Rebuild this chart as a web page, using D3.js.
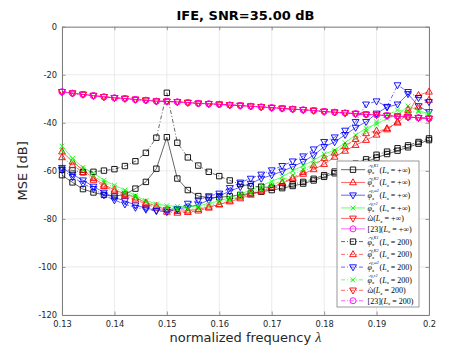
<!DOCTYPE html>
<html><head><meta charset="utf-8">
<script src="https://cdn.jsdelivr.net/npm/d3@7"></script>
<style>body{margin:0;background:#fff}svg{display:block}</style>
</head><body><svg id="c" width="474" height="355"></svg>
<script>
const freq = [0.130,0.132,0.134,0.136,0.138,0.140,0.142,0.144,0.146,0.148,0.150,0.152,0.154,0.156,0.158,0.160,0.162,0.164,0.166,0.168,0.170,0.172,0.174,0.176,0.178,0.180,0.182,0.184,0.186,0.188,0.190,0.192,0.194,0.196,0.198,0.200];
const k1Inf = [-61.8,-64.8,-67.6,-69.0,-70.0,-70.6,-69.8,-67.4,-64.6,-59.1,-46.0,-63.2,-68.0,-70.5,-71.1,-71.0,-70.6,-70.0,-69.4,-68.7,-68.0,-67.2,-66.3,-65.3,-64.0,-62.5,-61.0,-59.5,-58.0,-56.3,-54.5,-53.0,-51.6,-50.2,-48.7,-47.2];
const k2Inf = [-52.0,-56.2,-59.7,-63.0,-65.8,-67.9,-69.6,-71.2,-73.2,-74.7,-76.2,-76.8,-76.6,-76.0,-75.0,-74.0,-72.8,-71.5,-70.0,-68.6,-67.0,-65.2,-63.3,-61.3,-59.4,-57.2,-54.2,-51.7,-49.3,-47.2,-45.0,-42.3,-40.0,-36.1,-28.5,-27.1];
const w2Inf = [-58.7,-61.5,-63.9,-66.5,-69.0,-71.1,-72.5,-74.3,-75.5,-76.4,-76.2,-75.8,-75.2,-74.0,-72.2,-70.4,-68.5,-66.7,-65.3,-63.2,-61.8,-60.2,-58.3,-56.2,-53.5,-50.0,-48.0,-45.0,-42.0,-39.6,-36.1,-33.5,-32.3,-28.0,-33.0,-35.5];
const r2Inf = [-49.7,-54.8,-58.6,-60.9,-63.9,-66.0,-68.0,-70.3,-72.4,-73.8,-74.5,-74.8,-75.0,-74.6,-73.6,-72.5,-71.2,-69.7,-68.0,-66.2,-64.4,-62.5,-60.0,-57.8,-55.6,-53.0,-51.4,-48.3,-45.1,-42.3,-40.5,-38.2,-36.8,-33.0,-35.0,-36.2];
const omegaInf = [-27.1,-27.7,-28.2,-28.7,-29.2,-29.6,-29.9,-30.3,-30.6,-31.0,-31.1,-31.3,-31.6,-31.9,-32.1,-32.3,-32.6,-32.8,-33.1,-33.4,-33.7,-34.0,-34.3,-34.6,-34.9,-35.3,-35.6,-35.9,-36.2,-36.5,-36.7,-37.0,-37.3,-37.6,-37.9,-38.2];
const ref23Inf = [-27.1,-27.7,-28.2,-28.7,-29.2,-29.6,-29.9,-30.3,-30.6,-31.0,-31.1,-31.3,-31.6,-31.9,-32.1,-32.3,-32.6,-32.8,-33.1,-33.4,-33.7,-34.0,-34.3,-34.6,-34.9,-35.3,-35.6,-35.9,-36.2,-36.5,-36.7,-37.0,-37.3,-37.6,-37.9,-38.2];
const k1L200 = [-59.5,-59.8,-60.6,-60.4,-59.9,-59.3,-58.0,-56.0,-52.5,-46.2,-27.5,-48.3,-54.4,-57.8,-60.4,-62.2,-64.0,-65.5,-66.4,-66.6,-67.0,-66.5,-65.6,-64.6,-63.3,-61.8,-60.3,-58.7,-57.0,-55.2,-53.3,-52.0,-50.6,-49.4,-48.0,-46.5];
const k2L200 = [-54.4,-57.6,-60.6,-63.8,-66.4,-68.5,-70.4,-72.0,-73.8,-75.4,-77.1,-77.5,-77.2,-76.6,-75.4,-74.0,-72.4,-70.8,-69.4,-68.2,-66.7,-64.8,-62.9,-60.5,-57.8,-54.8,-52.5,-49.8,-46.8,-44.4,-43.3,-42.8,-39.6,-34.7,-33.3,-30.5];
const w2L200 = [-59.6,-62.5,-65.3,-67.5,-70.1,-72.2,-73.9,-75.3,-76.1,-76.7,-77.1,-76.1,-73.6,-72.2,-70.5,-69.4,-67.1,-64.8,-63.2,-61.5,-59.7,-57.9,-56.0,-53.9,-51.0,-47.9,-46.0,-43.2,-39.6,-32.3,-31.0,-33.3,-24.3,-27.1,-29.6,-31.3];
const r2L200 = [-51.5,-56.0,-59.5,-62.2,-64.8,-67.0,-69.0,-71.0,-73.0,-74.5,-75.5,-76.0,-76.2,-75.6,-74.5,-73.3,-72.0,-70.6,-69.2,-67.7,-66.0,-64.0,-61.8,-59.5,-57.2,-54.6,-52.2,-49.5,-46.5,-43.5,-39.6,-36.8,-34.7,-35.5,-35.4,-36.8];
const omegaL200 = [-27.1,-27.7,-28.2,-28.7,-29.2,-29.6,-29.9,-30.3,-30.6,-31.0,-31.1,-31.3,-31.6,-31.9,-32.1,-32.3,-32.6,-32.8,-33.1,-33.4,-33.7,-34.0,-34.3,-34.6,-34.9,-35.3,-35.6,-35.9,-36.2,-36.5,-36.7,-37.0,-37.3,-37.6,-37.9,-38.2];
const ref23L200 = [-27.1,-27.7,-28.2,-28.7,-29.2,-29.6,-29.9,-30.3,-30.6,-31.0,-31.1,-31.3,-31.6,-31.9,-32.1,-32.3,-32.6,-32.8,-33.1,-33.4,-33.7,-34.0,-34.3,-34.6,-34.9,-35.3,-35.6,-35.9,-36.2,-36.5,-36.7,-37.0,-37.3,-37.6,-37.9,-38.2];

const xTicks = [0.13,0.14,0.15,0.16,0.17,0.18,0.19,0.2];
const xTickLabels = ["0.13","0.14","0.15","0.16","0.17","0.18","0.19","0.2"];
const yTicks = [0,-20,-40,-60,-80,-100,-120];
const yTickLabels = ["0","-20","-40","-60","-80","-100","-120"];
const titleText = "IFE, SNR=35.00 dB";
const xLabelText = "normalized frequency ";
const yLabelText = "MSE [dB]";
const seriesKinds = ["phi","phi","phi","phi","omega","ref","phi","phi","phi","phi","omega","ref"];
const seriesSups = ["γ,K1","γ,K2","γ,ω2","γ,r2","","","γ,K1","γ,K2","γ,ω2","γ,r2","",""];
const seriesLengths = ["+∞","+∞","+∞","+∞","+∞","+∞","200","200","200","200","200","200"];

const series = [
  {data:k1Inf, color:"#000000", marker:"square", dash:null},
  {data:k2Inf, color:"#ff0000", marker:"triUp", dash:null},
  {data:w2Inf, color:"#0000ff", marker:"triDown", dash:null},
  {data:r2Inf, color:"#00ff00", marker:"x", dash:null},
  {data:omegaInf, color:"#ff0000", marker:"triDown", dash:null},
  {data:ref23Inf, color:"#ff00ff", marker:"circle", dash:null},
  {data:k1L200, color:"#000000", marker:"square", dash:"4,2,1,2"},
  {data:k2L200, color:"#ff0000", marker:"triUp", dash:"4,2,1,2"},
  {data:w2L200, color:"#0000ff", marker:"triDown", dash:"4,2,1,2"},
  {data:r2L200, color:"#00ff00", marker:"x", dash:"4,2,1,2"},
  {data:omegaL200, color:"#ff0000", marker:"triDown", dash:"4,2,1,2"},
  {data:ref23L200, color:"#ff00ff", marker:"circle", dash:"4,2,1,2"}
];

const svg = d3.select("#c");
const L = 62, R = 429, T = 26.7, B = 315;
const x = d3.scaleLinear().domain([0.13,0.2]).range([L,R]);
const y = d3.scaleLinear().domain([-120,0]).range([B,T]);
const sans = "'DejaVu Sans', sans-serif";
const serif = "'Liberation Serif', 'DejaVu Serif', serif";

svg.append("rect").attr("x",L).attr("y",T).attr("width",R-L).attr("height",B-T).attr("fill","#fff");

// grid
const grid = svg.append("g").attr("stroke","#e6e6e6").attr("stroke-width",0.8);
xTicks.forEach(t=>grid.append("line").attr("x1",x(t)).attr("x2",x(t)).attr("y1",T).attr("y2",B));
yTicks.forEach(t=>grid.append("line").attr("x1",L).attr("x2",R).attr("y1",y(t)).attr("y2",y(t)));

// axes
const axCol = "#7f7f7f";
const fmtX = d => xTickLabels[xTicks.indexOf(d)];
const fmtY = d => yTickLabels[yTicks.indexOf(d)];
const gxB = svg.append("g").attr("transform",`translate(0,${B})`).call(d3.axisBottom(x).tickValues(xTicks).tickFormat(fmtX).tickSizeInner(-3.5).tickSizeOuter(0).tickPadding(6));
const gxT = svg.append("g").attr("transform",`translate(0,${T})`).call(d3.axisTop(x).tickValues(xTicks).tickFormat("").tickSizeInner(-3.5).tickSizeOuter(0));
const gyL = svg.append("g").attr("transform",`translate(${L},0)`).call(d3.axisLeft(y).tickValues(yTicks).tickFormat(fmtY).tickSizeInner(-3.5).tickSizeOuter(0).tickPadding(5));
const gyR = svg.append("g").attr("transform",`translate(${R},0)`).call(d3.axisRight(y).tickValues(yTicks).tickFormat("").tickSizeInner(-3.5).tickSizeOuter(0));
[gxB,gxT,gyL,gyR].forEach(g=>{
  g.selectAll("path.domain").attr("stroke",axCol).attr("stroke-width",1);
  g.selectAll(".tick line").attr("stroke",axCol).attr("stroke-width",0.8);
  g.selectAll("text").attr("fill","#262626").attr("font-family",sans).attr("font-size","8.3px");
});
gyL.selectAll("text").attr("dy","0.35em");

// marker paths
function markerPath(type){
  switch(type){
    case "square": return "M-2.7,-2.7h5.4v5.4h-5.4Z";
    case "triUp": return "M0,-3.7L3.4,2.3L-3.4,2.3Z";
    case "triDown": return "M0,3.7L3.4,-2.3L-3.4,-2.3Z";
    case "x": return "M-2.4,-2.4L2.4,2.4M-2.4,2.4L2.4,-2.4";
    case "circle": return "M3,0A3,3 0 1,1 -3,0A3,3 0 1,1 3,0Z";
  }
}

const line = d3.line().x((d,i)=>x(freq[i])).y(d=>y(d));
const plot = svg.append("g");
series.forEach(s=>{
  const g = plot.append("g");
  g.append("path").attr("d",line(s.data)).attr("fill","none").attr("stroke",s.color).attr("stroke-width",0.6)
    .attr("stroke-dasharray",s.dash);
  g.selectAll("path.m").data(s.data).enter().append("path").attr("class","m")
    .attr("d",markerPath(s.marker)).attr("transform",(d,i)=>`translate(${x(freq[i])},${y(d)})`)
    .attr("fill","none").attr("stroke",s.color).attr("stroke-width",0.9);
});

// title & labels
svg.append("text").attr("x",(L+R)/2).attr("y",20).attr("text-anchor","middle")
  .attr("font-family",sans).attr("font-weight","bold").attr("font-size","13px").attr("fill","#000").text(titleText);
const xl = svg.append("text").attr("x",(L+R)/2).attr("y",342).attr("text-anchor","middle")
  .attr("font-family",sans).attr("font-size","13px").attr("fill","#262626");
xl.append("tspan").text(xLabelText);
xl.append("tspan").attr("font-family",serif).attr("font-style","italic").attr("font-size","14px").text("λ");
svg.append("text").attr("transform",`translate(27,${(T+B)/2}) rotate(-90)`).attr("text-anchor","middle")
  .attr("font-family",sans).attr("font-size","13px").attr("fill","#262626").text(yLabelText);

// legend
const lg = svg.append("g");
const lx0 = 337, ly0 = 161, lw = 82, lh = 146;
lg.append("rect").attr("x",lx0).attr("y",ly0).attr("width",lw).attr("height",lh).attr("fill","#fff").attr("stroke","#7f7f7f").attr("stroke-width",0.8);
const above = seriesKinds.map(k=>k==="phi"?6.5:4.2);
const below = 5.5;
const gap = 0.75;
let cy = ly0 + 2.2 - gap;
series.forEach((s,i)=>{
  cy += (i===0 ? gap + above[i] : below + gap + above[i]);
  const row = lg.append("g");
  row.append("line").attr("x1",341).attr("x2",365).attr("y1",cy).attr("y2",cy).attr("stroke",s.color).attr("stroke-width",0.6).attr("stroke-dasharray",s.dash);
  row.append("path").attr("d",markerPath(s.marker)).attr("transform",`translate(353,${cy})`).attr("fill","none").attr("stroke",s.color).attr("stroke-width",0.9);
  const tx = 367.5, base = cy + 3;
  const t = row.append("text").attr("font-family",serif).attr("font-size","8px").attr("fill","#000");
  if(seriesKinds[i]==="phi"){
    t.append("tspan").attr("x",tx).attr("y",base).attr("font-style","italic").text("φ");
    row.append("path").attr("d",`M${tx+1.4},${base-6}L${tx+2.7},${base-7.3}L${tx+4},${base-6}`).attr("fill","none").attr("stroke","#000").attr("stroke-width",0.5);
    t.append("tspan").attr("x",tx+3.8).attr("y",base-5.8).attr("font-style","italic").attr("font-size","4px").text(seriesSups[i]);
    t.append("tspan").attr("x",tx+4.6).attr("y",base+1.4).attr("font-style","italic").attr("font-size","5px").text("x");
    t.append("tspan").attr("x",tx+12).attr("y",base).text("(");
  } else if(seriesKinds[i]==="omega"){
    t.append("tspan").attr("x",tx).attr("y",base).attr("font-style","italic").text("ω");
    row.append("path").attr("d",`M${tx+1.5},${base-4.6}L${tx+2.9},${base-6}L${tx+4.3},${base-4.6}`).attr("fill","none").attr("stroke","#000").attr("stroke-width",0.5);
    t.append("tspan").text("(");
  } else {
    t.append("tspan").attr("x",tx).attr("y",base).text("[23](");
  }
  t.append("tspan").attr("font-style","italic").text("L");
  t.append("tspan").attr("font-style","italic").attr("font-size","5px").attr("dy",1.4).text("x");
  t.append("tspan").attr("dy",-1.4).text(" = " + seriesLengths[i] + ")");
});
</script>
</body></html>
